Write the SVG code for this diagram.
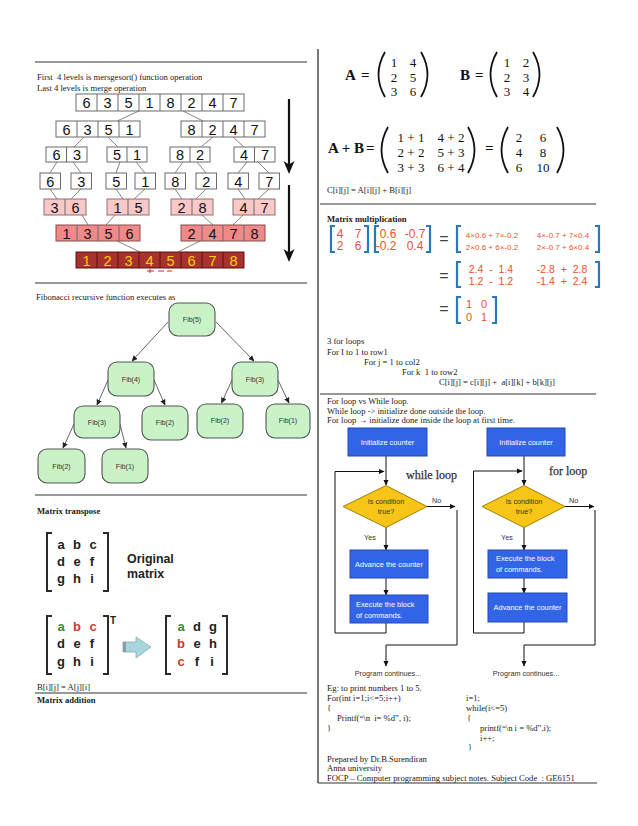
<svg xmlns="http://www.w3.org/2000/svg" width="638" height="826" viewBox="0 0 638 826">
<defs>
<marker id="ah" viewBox="0 0 10 10" refX="9" refY="5" markerWidth="6" markerHeight="6" orient="auto" markerUnits="userSpaceOnUse"><path d="M0,0.5 L10,5 L0,9.5 z" fill="#111"/></marker>
<marker id="fa" viewBox="0 0 10 10" refX="9" refY="5" markerWidth="6" markerHeight="6" orient="auto" markerUnits="userSpaceOnUse"><path d="M0,0.5 L10,5 L0,9.5 z" fill="#222"/></marker>
</defs>
<style>
.t{font-family:"Liberation Serif","Times New Roman",serif;font-size:8.6px;fill:#1a1a1a}
.bd{font-weight:bold}
.rule{stroke:#333;stroke-width:1.2;fill:none}
.cell{fill:#fff;stroke:#6a6a6a;stroke-width:1}
.c5{fill:#fbc8c8;stroke:#8a7070;stroke-width:1}
.c6{fill:#ef8a88;stroke:#8a4a4a;stroke-width:1}
.c7{fill:#a8332e;stroke:#5a1010;stroke-width:1}
.dv{stroke:#6a6a6a;stroke-width:1}
.dg{font-family:"Liberation Sans",Arial,sans-serif;font-size:14.5px;text-anchor:middle;fill:#111}
.dy{fill:#ffcc11}
.ln{stroke:#777;stroke-width:0.9;fill:none}
.fib{fill:#c9f2c6;stroke:#555;stroke-width:1.1}
.ft{font-family:"Liberation Sans",Arial,sans-serif;font-size:7px;text-anchor:middle;fill:#333}
.fc{stroke:#555;stroke-width:0.9;fill:none}
.br{stroke:#2a2a2a;stroke-width:2;fill:none}
.lt{font-family:"Liberation Sans",Arial,sans-serif;font-size:13px;font-weight:bold;text-anchor:middle;fill:#222}
.gr{fill:#3a8a3a}
.rd{fill:#c83a30}
.mt{font-family:"Liberation Serif","Times New Roman",serif;font-size:13px;fill:#111;text-anchor:middle}
.mb{font-family:"Liberation Serif","Times New Roman",serif;font-size:15px;font-weight:bold;fill:#111}
.par{stroke:#111;stroke-width:1.8;fill:none}
.bb{stroke:#2b78b8;stroke-width:2.2;fill:none}
.ot{font-family:"Liberation Sans",Arial,sans-serif;fill:#e8542a;text-anchor:middle}
.eq{font-family:"Liberation Sans",Arial,sans-serif;font-size:16px;fill:#444;text-anchor:middle}
.box{fill:#3264e8;stroke:#2448b8;stroke-width:1}
.dia{fill:#f7c518;stroke:#a08000;stroke-width:1}
.wt{font-family:"Liberation Sans",Arial,sans-serif;font-size:7.4px;fill:#fff}
.kt{font-family:"Liberation Sans",Arial,sans-serif;font-size:7.2px;fill:#333}
.fl{stroke:#111;stroke-width:1;fill:none}
.lab{font-family:"Liberation Serif","Times New Roman",serif;font-size:12px;fill:#333;stroke:#333;stroke-width:0.25}
</style>

<!-- page rules -->
<g id="rules">
<line class="rule" x1="35" y1="62" x2="307" y2="62"/>
<line class="rule" x1="35" y1="283" x2="307" y2="283"/>
<line class="rule" x1="35" y1="495" x2="307" y2="495"/>
<line class="rule" x1="35" y1="693" x2="307" y2="693"/>
<line x1="318" y1="49" x2="318" y2="783" stroke="#7a7a7a" stroke-width="2"/>
<line class="rule" x1="320" y1="204" x2="596" y2="204"/>
<line class="rule" x1="320" y1="394" x2="596" y2="394"/>
<line class="rule" x1="318" y1="783" x2="597" y2="783"/>
</g>

<!-- left column texts -->
<g id="left-texts">
<text class="t" x="37" y="80" xml:space="preserve">First  4 levels is mersgesort() function operation</text>
<text class="t" x="37" y="90.5">Last 4 levels is merge operation</text>
<text class="t" x="36" y="300">Fibonacci recursive function executes as</text>
<text class="t bd" x="37" y="514">Matrix transpose</text>
<text class="t" x="37" y="690">B[i][j] = A[j][i]</text>
<text class="t bd" x="37" y="703">Matrix addition</text>
</g>

<!-- merge sort connectors -->
<g id="merge-connectors">
<line class="ln" x1="139" y1="111" x2="117" y2="121"/>
<line class="ln" x1="183" y1="111" x2="203" y2="121"/>
<line class="ln" x1="84" y1="137" x2="74" y2="147"/>
<line class="ln" x1="108" y1="137" x2="118" y2="147"/>
<line class="ln" x1="213" y1="137" x2="201" y2="147"/>
<line class="ln" x1="233" y1="137" x2="244" y2="147"/>
<line class="ln" x1="57" y1="162" x2="50" y2="173"/>
<line class="ln" x1="73" y1="162" x2="81" y2="173"/>
<line class="ln" x1="120" y1="162" x2="116" y2="173"/>
<line class="ln" x1="136" y1="162" x2="145" y2="173"/>
<line class="ln" x1="183" y1="162" x2="175" y2="173"/>
<line class="ln" x1="197" y1="162" x2="206" y2="173"/>
<line class="ln" x1="247" y1="162" x2="238" y2="173"/>
<line class="ln" x1="258" y1="162" x2="269" y2="173"/>
<line class="ln" x1="50" y1="189" x2="57" y2="199"/>
<line class="ln" x1="81" y1="189" x2="71" y2="199"/>
<line class="ln" x1="116" y1="189" x2="123" y2="199"/>
<line class="ln" x1="145" y1="189" x2="134" y2="199"/>
<line class="ln" x1="175" y1="189" x2="182" y2="199"/>
<line class="ln" x1="206" y1="189" x2="196" y2="199"/>
<line class="ln" x1="238" y1="189" x2="245" y2="199"/>
<line class="ln" x1="269" y1="189" x2="258" y2="199"/>
<line class="ln" x1="82" y1="215" x2="88" y2="225"/>
<line class="ln" x1="115" y1="215" x2="106" y2="225"/>
<line class="ln" x1="202" y1="215" x2="213" y2="225"/>
<line class="ln" x1="243" y1="215" x2="233" y2="225"/>
<line class="ln" x1="117" y1="241" x2="140" y2="252"/>
<line class="ln" x1="200" y1="241" x2="178" y2="252"/>
</g>

<!-- merge sort rows -->
<g id="ms-r1">
<rect class="cell" x="76" y="94" width="168" height="17"/>
<path class="dv" d="M97,94V111M118,94V111M139,94V111M160,94V111M181,94V111M202,94V111M223,94V111"/>
<text class="dg" y="108"><tspan x="86.5">6</tspan><tspan x="107.5">3</tspan><tspan x="128.5">5</tspan><tspan x="149.5">1</tspan><tspan x="170.5">8</tspan><tspan x="191.5">2</tspan><tspan x="212.5">4</tspan><tspan x="233.5">7</tspan></text>
</g>
<g id="ms-r2a">
<rect class="cell" x="56" y="121" width="84" height="16"/>
<path class="dv" d="M77,121V137M98,121V137M119,121V137"/>
<text class="dg" y="134.5"><tspan x="66.5">6</tspan><tspan x="87.5">3</tspan><tspan x="108.5">5</tspan><tspan x="129.5">1</tspan></text>
</g>
<g id="ms-r2b">
<rect class="cell" x="181" y="121" width="84" height="16"/>
<path class="dv" d="M202,121V137M223,121V137M244,121V137"/>
<text class="dg" y="134.5"><tspan x="191.5">8</tspan><tspan x="212.5">2</tspan><tspan x="233.5">4</tspan><tspan x="254.5">7</tspan></text>
</g>
<g id="ms-r3">
<rect class="cell" x="46" y="147" width="41" height="15"/><line class="dv" x1="66.5" y1="147" x2="66.5" y2="162"/>
<rect class="cell" x="107" y="147" width="40" height="15"/><line class="dv" x1="127" y1="147" x2="127" y2="162"/>
<rect class="cell" x="170" y="147" width="40" height="15"/><line class="dv" x1="190" y1="147" x2="190" y2="162"/>
<rect class="cell" x="234" y="147" width="41" height="15"/><line class="dv" x1="254.5" y1="147" x2="254.5" y2="162"/>
<text class="dg" y="160"><tspan x="56.5">6</tspan><tspan x="77">3</tspan><tspan x="117">5</tspan><tspan x="137">1</tspan><tspan x="180">8</tspan><tspan x="200">2</tspan><tspan x="244">4</tspan><tspan x="265">7</tspan></text>
</g>
<g id="ms-r4">
<rect class="cell" x="40" y="173" width="20.5" height="16"/>
<rect class="cell" x="71" y="173" width="20.5" height="16"/>
<rect class="cell" x="106" y="173" width="20.5" height="16"/>
<rect class="cell" x="135" y="173" width="20.5" height="16"/>
<rect class="cell" x="165" y="173" width="20.5" height="16"/>
<rect class="cell" x="196" y="173" width="20.5" height="16"/>
<rect class="cell" x="228" y="173" width="20.5" height="16"/>
<rect class="cell" x="259" y="173" width="20.5" height="16"/>
<text class="dg" y="186.5"><tspan x="50.25">6</tspan><tspan x="81.25">3</tspan><tspan x="116.25">5</tspan><tspan x="145.25">1</tspan><tspan x="175.25">8</tspan><tspan x="206.25">2</tspan><tspan x="238.25">4</tspan><tspan x="269.25">7</tspan></text>
</g>
<g id="ms-r5">
<rect class="c5" x="44" y="199" width="42" height="16"/><line class="dv" x1="65" y1="199" x2="65" y2="215"/>
<rect class="c5" x="107" y="199" width="42" height="16"/><line class="dv" x1="128" y1="199" x2="128" y2="215"/>
<rect class="c5" x="171" y="199" width="42" height="16"/><line class="dv" x1="192" y1="199" x2="192" y2="215"/>
<rect class="c5" x="233" y="199" width="42" height="16"/><line class="dv" x1="254" y1="199" x2="254" y2="215"/>
<text class="dg" y="212.5"><tspan x="54.5">3</tspan><tspan x="75.5">6</tspan><tspan x="117.5">1</tspan><tspan x="138.5">5</tspan><tspan x="181.5">2</tspan><tspan x="202.5">8</tspan><tspan x="243.5">4</tspan><tspan x="264.5">7</tspan></text>
</g>
<g id="ms-r6">
<rect class="c6" x="56" y="225" width="84" height="16"/>
<path class="dv" d="M77,225V241M98,225V241M119,225V241"/>
<rect class="c6" x="181" y="225" width="84" height="16"/>
<path class="dv" d="M202,225V241M223,225V241M244,225V241"/>
<text class="dg" y="238.5"><tspan x="66.5">1</tspan><tspan x="87.5">3</tspan><tspan x="108.5">5</tspan><tspan x="129.5">6</tspan><tspan x="191.5">2</tspan><tspan x="212.5">4</tspan><tspan x="233.5">7</tspan><tspan x="254.5">8</tspan></text>
</g>
<g id="ms-r7">
<rect class="c7" x="76" y="252" width="168" height="16"/>
<path d="M97,252V268M118,252V268M139,252V268M160,252V268M181,252V268M202,252V268M223,252V268" stroke="#5a1010" stroke-width="1"/>
<text class="dg dy" y="265.5"><tspan x="86.5">1</tspan><tspan x="107.5">2</tspan><tspan x="128.5">3</tspan><tspan x="149.5">4</tspan><tspan x="170.5">5</tspan><tspan x="191.5">6</tspan><tspan x="212.5">7</tspan><tspan x="233.5">8</tspan></text>
<path d="M147,271h7M150,269v4M158,271h6M167,271h5" stroke="#e02020" stroke-width="1"/>
</g>
<g id="ms-arrows">
<line x1="289" y1="99" x2="289" y2="166" stroke="#111" stroke-width="2.2"/>
<path d="M289,174 L283.5,161 L289,164.5 L294.5,161 z" fill="#111"/>
<line x1="289" y1="185" x2="289" y2="254" stroke="#111" stroke-width="2.2"/>
<path d="M289,262 L283.5,249 L289,252.5 L294.5,249 z" fill="#111"/>
</g>

<!-- Fibonacci tree -->
<g id="fib-connectors">
<line class="fc" x1="168" y1="322" x2="132" y2="361" marker-end="url(#fa)"/>
<line class="fc" x1="216" y1="322" x2="254" y2="361" marker-end="url(#fa)"/>
<line class="fc" x1="108" y1="380" x2="97" y2="405" marker-end="url(#fa)"/>
<line class="fc" x1="154" y1="380" x2="165" y2="405" marker-end="url(#fa)"/>
<line class="fc" x1="232" y1="380" x2="221.5" y2="403" marker-end="url(#fa)"/>
<line class="fc" x1="278" y1="380" x2="289" y2="403" marker-end="url(#fa)"/>
<line class="fc" x1="74" y1="424" x2="63" y2="448" marker-end="url(#fa)"/>
<line class="fc" x1="120" y1="424" x2="126" y2="448" marker-end="url(#fa)"/>
</g>
<g id="fib5"><rect class="fib" x="169" y="303" width="46" height="33" rx="9"/><text class="ft" x="192" y="322">Fib(5)</text></g>
<g id="fib4"><rect class="fib" x="108" y="362" width="46" height="34" rx="9"/><text class="ft" x="131" y="381.5">Fib(4)</text></g>
<g id="fib3r"><rect class="fib" x="232" y="362" width="46" height="34" rx="9"/><text class="ft" x="255" y="381.5">Fib(3)</text></g>
<g id="fib3l"><rect class="fib" x="74" y="406" width="46" height="32" rx="9"/><text class="ft" x="97" y="424.5">Fib(3)</text></g>
<g id="fib2m"><rect class="fib" x="142" y="406" width="46" height="34" rx="9"/><text class="ft" x="165" y="425">Fib(2)</text></g>
<g id="fib2r"><rect class="fib" x="197" y="404" width="46" height="34" rx="9"/><text class="ft" x="220" y="423">Fib(2)</text></g>
<g id="fib1r"><rect class="fib" x="266" y="404" width="44" height="34" rx="9"/><text class="ft" x="288" y="423">Fib(1)</text></g>
<g id="fib2b"><rect class="fib" x="38" y="449" width="47" height="34" rx="9"/><text class="ft" x="61.5" y="468.5">Fib(2)</text></g>
<g id="fib1b"><rect class="fib" x="102" y="449" width="46" height="34" rx="9"/><text class="ft" x="125" y="468.5">Fib(1)</text></g>

<!-- Matrix transpose -->
<g id="transpose">
<path class="br" d="M52,533H47V591H52M103,533H108V591H103"/>
<text class="lt" y="549"><tspan x="61">a</tspan><tspan x="77">b</tspan><tspan x="93">c</tspan></text>
<text class="lt" y="566"><tspan x="61">d</tspan><tspan x="77">e</tspan><tspan x="92">f</tspan></text>
<text class="lt" y="583"><tspan x="61">g</tspan><tspan x="77">h</tspan><tspan x="92">i</tspan></text>
<text font-family="Liberation Sans, Arial, sans-serif" font-size="12.4" font-weight="bold" fill="#222" x="127" y="562.5">Original</text>
<text font-family="Liberation Sans, Arial, sans-serif" font-size="12.4" font-weight="bold" fill="#222" x="127" y="577.5">matrix</text>
<path class="br" d="M52,616H47V674H52M103,616H108V674H103"/>
<text font-family="Liberation Sans, Arial, sans-serif" font-size="10" font-weight="bold" fill="#222" x="110" y="623.5">T</text>
<text class="lt" y="631"><tspan x="61" class="gr">a</tspan><tspan x="77" class="rd">b</tspan><tspan x="93" class="rd">c</tspan></text>
<text class="lt" y="647.5"><tspan x="61">d</tspan><tspan x="77">e</tspan><tspan x="92">f</tspan></text>
<text class="lt" y="665.5"><tspan x="61">g</tspan><tspan x="77">h</tspan><tspan x="92">i</tspan></text>
<path d="M123,642H136V637L151,647L136,658V652H123Z" fill="#a9d6dc" stroke="#8aa8ac" stroke-width="0.8"/>
<rect x="123" y="642" width="3" height="10" fill="#8a9ea0"/>
<path class="br" d="M171,616H166V674H171M222,616H227V674H222"/>
<text class="lt" y="631"><tspan x="181" class="gr">a</tspan><tspan x="197">d</tspan><tspan x="213">g</tspan></text>
<text class="lt" y="647.5"><tspan x="181" class="rd">b</tspan><tspan x="197">e</tspan><tspan x="213">h</tspan></text>
<text class="lt" y="665.5"><tspan x="181" class="rd">c</tspan><tspan x="197">f</tspan><tspan x="212">i</tspan></text>
</g>

<!-- Matrix addition -->
<g id="matrix-add">
<text class="mb" x="345" y="80">A</text><text class="mb" x="361" y="80">=</text>
<path class="par" d="M385,52Q372,74.5 385,97M421,52Q434,74.5 421,97"/>
<text class="mt" y="67"><tspan x="394">1</tspan><tspan x="413">4</tspan></text>
<text class="mt" y="81.5"><tspan x="394">2</tspan><tspan x="413">5</tspan></text>
<text class="mt" y="96"><tspan x="394">3</tspan><tspan x="413">6</tspan></text>
<text class="mb" x="460" y="80">B</text><text class="mb" x="475" y="80">=</text>
<path class="par" d="M497,52Q484,74.5 497,97M533,52Q546,74.5 533,97"/>
<text class="mt" y="67"><tspan x="507">1</tspan><tspan x="526">2</tspan></text>
<text class="mt" y="81.5"><tspan x="507">2</tspan><tspan x="526">3</tspan></text>
<text class="mt" y="96"><tspan x="507">3</tspan><tspan x="526">4</tspan></text>
<text class="mb" font-size="14" x="328" y="153" xml:space="preserve">A + B</text>
<text class="mb" x="366" y="153">=</text>
<path class="par" d="M388,127Q375,150 388,173M468,127Q481,150 468,173"/>
<text class="mt" y="142"><tspan x="411">1 + 1</tspan><tspan x="451">4 + 2</tspan></text>
<text class="mt" y="157"><tspan x="411">2 + 2</tspan><tspan x="451">5 + 3</tspan></text>
<text class="mt" y="171.5"><tspan x="411">3 + 3</tspan><tspan x="451">6 + 4</tspan></text>
<text class="mb" x="485" y="153">=</text>
<path class="par" d="M508,127Q495,150 508,173M557,127Q570,150 557,173"/>
<text class="mt" y="142"><tspan x="519">2</tspan><tspan x="543">6</tspan></text>
<text class="mt" y="157"><tspan x="519">4</tspan><tspan x="543">8</tspan></text>
<text class="mt" y="171.5"><tspan x="519">6</tspan><tspan x="543">10</tspan></text>
<text class="t" x="327" y="193">C[i][j] = A[i][j] + B[i][j]</text>
</g>

<!-- Matrix multiplication -->
<g id="matrix-mult">
<text class="t bd" x="327" y="222">Matrix multiplication</text>
<path class="bb" d="M335,226H331V252H335M364,226H368V252H364"/>
<text class="ot" font-size="12" y="237.5"><tspan x="340">4</tspan><tspan x="358">7</tspan></text>
<text class="ot" font-size="12" y="250"><tspan x="340">2</tspan><tspan x="358">6</tspan></text>
<path class="bb" d="M379,226H375V252H379M426,226H430V252H426"/>
<text class="ot" font-size="12" y="237.5"><tspan x="388">0.6</tspan><tspan x="415">-0.7</tspan></text>
<text class="ot" font-size="12" y="250"><tspan x="386">-0.2</tspan><tspan x="415">0.4</tspan></text>
<text class="eq" x="444" y="243.5">=</text>
<path class="bb" d="M461,226H457V252H461M595,226H599V252H595"/>
<text class="ot" font-size="8" y="238"><tspan x="492">4×0.6 + 7×-0.2</tspan><tspan x="563">4×-0.7 + 7×0.4</tspan></text>
<text class="ot" font-size="8" y="249.5"><tspan x="492">2×0.6 + 6×-0.2</tspan><tspan x="563">2×-0.7 + 6×0.4</tspan></text>
<text class="eq" x="444" y="280.5">=</text>
<path class="bb" d="M461,262H457V287H461M595,262H599V287H595"/>
<text class="ot" font-size="10.5" y="273" xml:space="preserve"><tspan x="491">2.4  -  1.4</tspan><tspan x="562">-2.8  +  2.8</tspan></text>
<text class="ot" font-size="10.5" y="285" xml:space="preserve"><tspan x="491">1.2  -  1.2</tspan><tspan x="562">-1.4  +  2.4</tspan></text>
<text class="eq" x="444" y="313.5">=</text>
<path class="bb" d="M461,297H457V323H461M492,297H496V323H492"/>
<text class="ot" font-size="11" y="308"><tspan x="469">1</tspan><tspan x="484">0</tspan></text>
<text class="ot" font-size="11" y="320.5"><tspan x="469">0</tspan><tspan x="484">1</tspan></text>
</g>

<!-- loops text -->
<g id="loop-text">
<text class="t" x="327" y="344">3 for loops</text>
<text class="t" x="327" y="354.5">For I to 1 to row1</text>
<text class="t" x="364" y="364.5">For j = 1 to col2</text>
<text class="t" x="402" y="374.5" xml:space="preserve">For k  1 to row2</text>
<text class="t" x="439" y="384.5" xml:space="preserve">C[i][j] = c[i][j] +  a[i][k] + b[k][j]</text>
<text class="t" x="327" y="404">For loop vs While loop.</text>
<text class="t" x="327" y="413.5">While loop -&gt; initialize done outside the loop.</text>
<text class="t" x="327" y="423">For loop <tspan font-weight="bold">→</tspan> initialize done inside the loop at first time.</text>
</g>

<!-- flowchart connectors -->
<g id="flow-connectors">
<line class="fl" x1="386" y1="456" x2="386" y2="485" marker-end="url(#ah)"/>
<polyline class="fl" points="386,623 386,633 335,633 335,471.5 384,471.5" marker-end="url(#ah)"/>
<line class="fl" x1="427" y1="506.5" x2="455" y2="506.5" marker-end="url(#ah)"/>
<polyline class="fl" points="457,510 457,645 386,645 386,666" marker-end="url(#ah)"/>
<line class="fl" x1="386" y1="527" x2="386" y2="550" marker-end="url(#ah)"/>
<line class="fl" x1="386" y1="578" x2="386" y2="595" marker-end="url(#ah)"/>

<line class="fl" x1="524" y1="456" x2="524" y2="485" marker-end="url(#ah)"/>
<polyline class="fl" points="524,622 524,633 473.5,633 473.5,471 522,471" marker-end="url(#ah)"/>
<line class="fl" x1="565" y1="506.5" x2="594" y2="506.5" marker-end="url(#ah)"/>
<polyline class="fl" points="595,510 595,645 524,645 524,666" marker-end="url(#ah)"/>
<line class="fl" x1="524" y1="527" x2="524" y2="550" marker-end="url(#ah)"/>
<line class="fl" x1="524" y1="578" x2="524" y2="593" marker-end="url(#ah)"/>
</g>

<!-- while loop flowchart -->
<g id="w-init"><rect class="box" x="348" y="428" width="79" height="28"/><text class="wt" x="387.5" y="445" text-anchor="middle">Initialize counter</text></g>
<g id="w-cond"><polygon class="dia" points="386,485.5 427,506.5 386,527.5 343,506.5"/><text class="kt" x="386" y="504" text-anchor="middle">Is condition</text><text class="kt" x="386" y="514" text-anchor="middle">true?</text></g>
<g id="w-adv"><rect class="box" x="350" y="550" width="78" height="28"/><text class="wt" font-size="7.6" x="389" y="567" text-anchor="middle">Advance the counter</text></g>
<g id="w-exec"><rect class="box" x="350" y="595" width="78" height="28"/><text class="wt" font-size="7.9" x="356" y="607">Execute the block</text><text class="wt" font-size="7.9" x="356" y="617.5">of commands.</text></g>
<g id="w-end"><text class="kt" x="388" y="676" text-anchor="middle">Program continues...</text></g>
<g id="w-labels">
<text class="lab" x="406" y="479">while loop</text>
<text class="kt" x="432" y="502.5">No</text>
<text class="kt" x="364" y="539.5">Yes</text>
</g>

<!-- for loop flowchart -->
<g id="f-init"><rect class="box" x="487" y="428" width="78" height="28"/><text class="wt" x="526" y="445" text-anchor="middle">Initialize counter</text></g>
<g id="f-cond"><polygon class="dia" points="524,485.5 565,506.5 524,527.5 482,506.5"/><text class="kt" x="524" y="504" text-anchor="middle">Is condition</text><text class="kt" x="524" y="514" text-anchor="middle">true?</text></g>
<g id="f-exec"><rect class="box" x="488" y="550" width="79" height="28"/><text class="wt" font-size="7.9" x="496" y="561">Execute the block</text><text class="wt" font-size="7.9" x="496" y="571.5">of commands.</text></g>
<g id="f-adv"><rect class="box" x="488" y="593" width="79" height="29"/><text class="wt" font-size="7.6" x="527.5" y="610" text-anchor="middle">Advance the counter</text></g>
<g id="f-end"><text class="kt" x="526" y="676" text-anchor="middle">Program continues...</text></g>
<g id="f-labels">
<text class="lab" x="549" y="475">for loop</text>
<text class="kt" x="569" y="502.5">No</text>
<text class="kt" x="501" y="539.5">Yes</text>
</g>

<!-- code and footer -->
<g id="code-text">
<text class="t" x="327" y="691">Eg: to print numbers 1 to 5.</text>
<text class="t" x="327" y="701">For(int i=1;i&lt;=5;i++)</text>
<text class="t" x="327" y="711">{</text>
<text class="t" x="337" y="721" xml:space="preserve">Printf(“\n  i= %d”, i);</text>
<text class="t" x="327" y="731">}</text>
<text class="t" x="466" y="701">i=1;</text>
<text class="t" x="466" y="711">while(i&lt;=5)</text>
<text class="t" x="467" y="721">{</text>
<text class="t" x="480" y="731">printf(“\n i = %d”,i);</text>
<text class="t" x="480" y="740.5">i++;</text>
<text class="t" x="468" y="750">}</text>
<text class="t" x="327" y="761.5">Prepared by Dr.B.Surendiran</text>
<text class="t" x="327" y="771">Anna university</text>
<text class="t" x="327" y="780.5" xml:space="preserve">FOCP – Computer programming subject notes. Subject Code  : GE6151</text>
</g>
</svg>
